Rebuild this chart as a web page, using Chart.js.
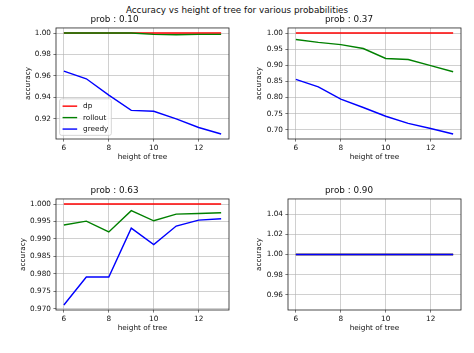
<!DOCTYPE html>
<html>
<head>
<meta charset="utf-8">
<script src="https://cdn.jsdelivr.net/npm/chart.js@4.4.0/dist/chart.umd.min.js"></script>
<style>
    body { margin: 0; width: 474px; height: 353px; background: #fff; position: relative; overflow: hidden; font-family: "DejaVu Sans", sans-serif; }
    #suptitle { position: absolute; left: 0; top: 5px; width: 474px; text-align: center; font-size: 8.8px; line-height: 11px; color: #111; }
    canvas { position: absolute; }
</style>
</head>
<body>
<div id="suptitle">Accuracy vs height of tree for various probabilities</div>
<canvas id="c10" width="237" height="164" style="left:0;top:12px"></canvas>
<canvas id="c37" width="237" height="164" style="left:237px;top:12px"></canvas>
<canvas id="c63" width="237" height="164" style="left:0;top:183px"></canvas>
<canvas id="c90" width="237" height="164" style="left:237px;top:183px"></canvas>
<script>
// ===== data =====
const heights = [6, 7, 8, 9, 10, 11, 12, 13];
const xTickLabels = ['6', '8', '10', '12'];

const dp10      = [1, 1, 1, 1, 1, 1, 1, 1];
const rollout10 = [1.0, 1.0, 1.0, 1.0, 0.9987, 0.9984, 0.9987, 0.9987];
const greedy10  = [0.9645, 0.9574, 0.9422, 0.928, 0.9271, 0.920, 0.912, 0.906];
const yTickLabels10 = ['0.92', '0.94', '0.96', '0.98', '1.00'];

const dp37      = [1, 1, 1, 1, 1, 1, 1, 1];
const rollout37 = [0.980, 0.971, 0.964, 0.952, 0.921, 0.918, 0.899, 0.880];
const greedy37  = [0.856, 0.833, 0.795, 0.769, 0.742, 0.720, 0.704, 0.687];
const yTickLabels37 = ['0.70', '0.75', '0.80', '0.85', '0.90', '0.95', '1.00'];

const dp63      = [1, 1, 1, 1, 1, 1, 1, 1];
const rollout63 = [0.9940, 0.9951, 0.9920, 0.9981, 0.9952, 0.9971, 0.9973, 0.9975];
const greedy63  = [0.9711, 0.9791, 0.9791, 0.9931, 0.9884, 0.9937, 0.9954, 0.9958];
const yTickLabels63 = ['0.970', '0.975', '0.980', '0.985', '0.990', '0.995', '1.000'];

const dp90      = [1, 1, 1, 1, 1, 1, 1, 1];
const rollout90 = [1, 1, 1, 1, 1, 1, 1, 1];
const greedy90  = [1, 1, 1, 1, 1, 1, 1, 1];
const yTickLabels90 = ['0.96', '0.98', '1.00', '1.02', '1.04'];

// ===== style =====
const FONT = '"DejaVu Sans", sans-serif';
const TEXT = '#111';
const TICK_SIZE = 7.3;
const TITLE_SIZE = 8.8;
const LINE_W = 1.4;

// matplotlib-like autoscale: 5% margin, singular ranges expanded first
function paddedRange(values) {
    let lo = Math.min(...values), hi = Math.max(...values);
    if (hi - lo < 1e-12) {
        lo -= 0.05 * Math.abs(lo);
        hi += 0.05 * Math.abs(hi);
    }
    const m = (hi - lo) * 0.05;
    return [lo - m, hi + m];
}

const framePlugin = {
    id: 'frame',
    afterDatasetsDraw(chart) {
        const { ctx, chartArea: a } = chart;
        ctx.save();
        ctx.strokeStyle = '#222';
        ctx.lineWidth = 0.8;
        ctx.strokeRect(a.left, a.top, a.right - a.left, a.bottom - a.top);
        ctx.restore();
    }
};

// legend drawn inside the plot, lower left
const insideLegendPlugin = {
    id: 'insideLegend',
    afterDraw(chart, args, opts) {
        if (!opts.display) return;
        const { ctx, chartArea: a } = chart;
        const fs = TICK_SIZE;
        const sets = chart.data.datasets;
        ctx.save();
        ctx.font = `${fs}px ${FONT}`;
        const textW = Math.max(...sets.map(d => ctx.measureText(d.label).width));
        const bp = 0.4 * fs, hl = 2 * fs, htp = 0.8 * fs, step = 1.57 * fs;
        const w = bp * 2 + hl + htp + textW;
        const h = bp * 2 + sets.length * fs * 1.1 + (sets.length - 1) * 0.45 * fs;
        const x0 = a.left + 0.5 * fs;
        const y0 = a.bottom - 0.5 * fs - h;
        ctx.beginPath();
        ctx.roundRect(x0, y0, w, h, 2);
        ctx.fillStyle = 'rgba(255,255,255,0.8)';
        ctx.fill();
        ctx.strokeStyle = '#cccccc';
        ctx.lineWidth = 0.8;
        ctx.stroke();
        sets.forEach((d, i) => {
            const cy = y0 + bp + fs * 0.6 + i * step;
            ctx.beginPath();
            ctx.moveTo(x0 + bp, cy);
            ctx.lineTo(x0 + bp + hl, cy);
            ctx.strokeStyle = d.borderColor;
            ctx.lineWidth = LINE_W;
            ctx.stroke();
            ctx.fillStyle = TEXT;
            ctx.textBaseline = 'middle';
            ctx.fillText(d.label, x0 + bp + hl + htp, cy);
        });
        ctx.restore();
    }
};

function makePanel(id, title, dp, rollout, greedy, yLabels, axisW, padRight, yTitlePad, showLegend) {
    const font = { family: FONT, size: TICK_SIZE, lineHeight: 1.2 };
    const [yMin, yMax] = paddedRange(dp.concat(rollout, greedy));
    const [xMin, xMax] = paddedRange(heights);
    const pts = arr => heights.map((h, i) => ({ x: h, y: arr[i] }));

    new Chart(document.getElementById(id).getContext('2d'), {
        type: 'line',
        data: {
            datasets: [
                { label: 'dp', data: pts(dp), borderColor: 'rgb(255,0,0)', order: 3 },
                { label: 'rollout', data: pts(rollout), borderColor: 'rgb(0,128,0)', order: 2 },
                { label: 'greedy', data: pts(greedy), borderColor: 'rgb(0,0,255)', order: 1 }
            ]
        },
        options: {
            responsive: false,
            animation: false,
            events: [],
            layout: { padding: { left: 0, right: padRight, top: 0, bottom: 0 } },
            elements: {
                point: { radius: 0 },
                line: { borderWidth: LINE_W, tension: 0, fill: false }
            },
            plugins: {
                legend: { display: false },
                tooltip: { enabled: false },
                title: {
                    display: true, text: title, color: TEXT,
                    font: { family: FONT, size: TITLE_SIZE, weight: 'normal', lineHeight: 1.2 },
                    padding: { top: 2, bottom: 3.4 }
                },
                insideLegend: { display: showLegend }
            },
            scales: {
                x: {
                    type: 'linear', min: xMin, max: xMax,
                    afterBuildTicks: s => { s.ticks = xTickLabels.map(v => ({ value: Number(v) })); },
                    afterFit: s => { s.height = 37; },
                    ticks: { color: TEXT, font, padding: 2, maxRotation: 0, autoSkip: false,
                             callback: (v, i) => xTickLabels[i] },
                    grid: { color: '#b0b0b0', lineWidth: 0.6, tickColor: '#222', tickLength: 2.6 },
                    border: { display: false },
                    title: { display: true, text: 'height of tree', color: TEXT, font,
                             padding: { top: 0, bottom: 14.6 } }
                },
                y: {
                    type: 'linear', min: yMin, max: yMax,
                    afterBuildTicks: s => { s.ticks = yLabels.map(v => ({ value: Number(v) })); },
                    afterFit: s => { s.width = axisW; },
                    ticks: { color: TEXT, font, padding: 2.4, autoSkip: false,
                             callback: (v, i) => yLabels[i] },
                    grid: { color: '#b0b0b0', lineWidth: 0.6, tickColor: '#222', tickLength: 2.6 },
                    border: { display: false },
                    title: { display: true, text: 'accuracy', color: TEXT, font,
                             padding: { top: yTitlePad, bottom: 0 } }
                }
            }
        },
        plugins: [framePlugin, insideLegendPlugin]
    });
}

makePanel('c10', 'prob : 0.10', dp10, rollout10, greedy10, yTickLabels10, 56, 8, 23.6, true);
makePanel('c37', 'prob : 0.37', dp37, rollout37, greedy37, yTickLabels37, 51, 13, 17.6, false);
makePanel('c63', 'prob : 0.63', dp63, rollout63, greedy63, yTickLabels63, 56, 8, 18.6, false);
makePanel('c90', 'prob : 0.90', dp90, rollout90, greedy90, yTickLabels90, 51, 13, 17.6, false);
</script>
</body>
</html>
